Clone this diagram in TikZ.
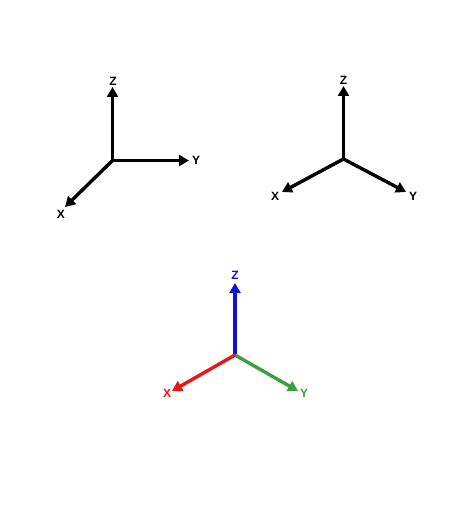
\documentclass[tikz,border=0pt]{standalone}
\usepackage{fontspec}
\setmainfont{Liberation Sans}
\usetikzlibrary{arrows.meta}
\definecolor{axred}{RGB}{232,24,24}
\definecolor{axgreen}{RGB}{58,160,64}
\definecolor{axblue}{RGB}{16,16,214}
\tikzset{
  axis/.style={line width=3.4pt,-{Triangle[length=10pt,width=11pt]}},
  lbl/.style={font=\fontsize{12}{14}\selectfont\bfseries,inner sep=0pt}
}
\begin{document}
\begin{tikzpicture}[x=1pt,y=-1pt]
\useasboundingbox[fill=white] (0,0) rectangle (474,505);
% first frame
\coordinate (o1) at (112.5,160.5);
\coordinate (z1) at (112.5,87);
\coordinate (y1) at (189,160.5);
\coordinate (x1) at (65,207);
\draw[axis] (o1) -- (z1);
\draw[axis] (o1) -- (y1);
\draw[axis] (o1) -- (x1);
\node[lbl] (zl1) at (113,81) {Z};
\node[lbl] (yl1) at (196,160) {Y};
\node[lbl] (xl1) at (61,214) {X};
% second frame
\coordinate (o2) at (343.5,159);
\coordinate (z2) at (343.5,86);
\coordinate (y2) at (406,192);
\coordinate (x2) at (282,192);
\draw[axis] (o2) -- (z2);
\draw[axis] (o2) -- (y2);
\draw[axis] (o2) -- (x2);
\node[lbl] (zl2) at (343.5,80) {Z};
\node[lbl] (yl2) at (413,196) {Y};
\node[lbl] (xl2) at (275,196) {X};
% third frame
\coordinate (o3) at (235,355);
\coordinate (z3) at (235,283);
\coordinate (y3) at (298,391);
\coordinate (x3) at (172,391);
\draw[axis,axblue] (o3) -- (z3);
\draw[axis,axgreen] (o3) -- (y3);
\draw[axis,axred] (o3) -- (x3);
\node[lbl,axblue] (zl3) at (235,275) {Z};
\node[lbl,axgreen] (yl3) at (304,393) {Y};
\node[lbl,axred] (xl3) at (167,393.5) {X};
\end{tikzpicture}
\end{document}
